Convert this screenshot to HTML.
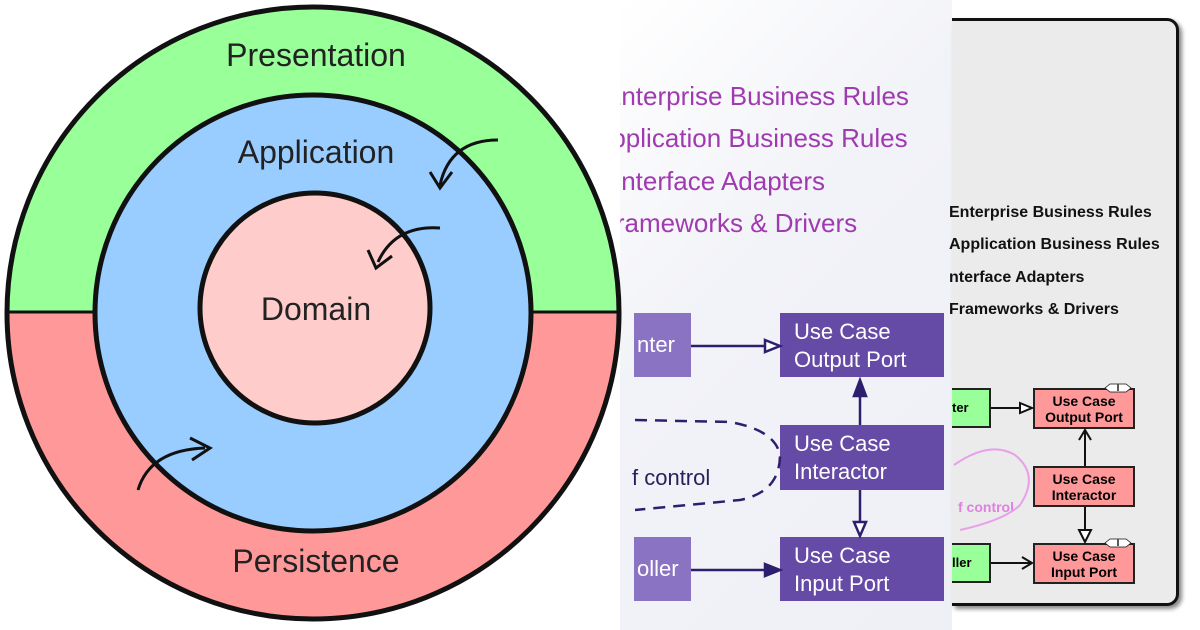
<!DOCTYPE html>
<html><head><style>
body{margin:0;width:1200px;height:630px;overflow:hidden;background:#fff;position:relative;font-family:"Liberation Sans",sans-serif}
.a{position:absolute}
.pt{color:#a03ab0;font-size:26px;white-space:nowrap;position:absolute}
.pb{background:#654ba6;color:#fff;font-size:22px;line-height:28px;padding:5px 0 0 14px;box-sizing:border-box}
.rt{font-weight:bold;font-size:16px;left:949px;white-space:nowrap;color:#111}
.rb{background:#f99;border:2px solid #222;box-sizing:border-box;font-weight:bold;font-size:14px;text-align:center;line-height:16px;padding-top:3px}
.gb{background:#9f9;border:2px solid #222;box-sizing:border-box;font-weight:bold;font-size:13px;line-height:36px}
</style></head><body>
<div class="a" style="left:620px;top:0;width:332px;height:630px;background:linear-gradient(135deg,#fff 0%,#f2f3f8 40%,#eef0f6 100%);overflow:hidden">
<div class="pt" style="top:81px;left:-16px">Enterprise Business Rules</div>
<div class="pt" style="top:123px;left:-26px">Application Business Rules</div>
<div class="pt" style="top:166px;left:-6px">Interface Adapters</div>
<div class="pt" style="top:208px;left:-20px">Frameworks &amp; Drivers</div>
</div>
<svg class="a" style="left:0;top:0" width="630" height="630">
<defs><clipPath id="t"><rect x="0" y="0" width="630" height="312"/></clipPath><clipPath id="b"><rect x="0" y="312" width="630" height="330"/></clipPath></defs>
<circle cx="313" cy="313" r="306" fill="#99ff99" clip-path="url(#t)"/>
<circle cx="313" cy="313" r="306" fill="#ff9999" clip-path="url(#b)"/>
<circle cx="313" cy="313" r="306" fill="none" stroke="#111" stroke-width="5"/>
<line x1="5" y1="312" x2="96" y2="312" stroke="#111" stroke-width="3"/>
<line x1="530" y1="312" x2="620" y2="312" stroke="#111" stroke-width="3"/>
<circle cx="313" cy="313" r="218" fill="#99ccff" stroke="#111" stroke-width="5"/>
<circle cx="315" cy="308" r="115" fill="#ffcccc" stroke="#111" stroke-width="5"/>
<g font-family="Liberation Sans" font-size="32" fill="#222" text-anchor="middle">
<text x="316" y="66">Presentation</text>
<text x="316" y="163">Application</text>
<text x="316" y="320">Domain</text>
<text x="316" y="572">Persistence</text></g>
<g fill="none" stroke="#111" stroke-width="3">
<path d="M498 140 Q450 140 440 185"/><path d="M430 172 L440 188 L452 172"/>
<path d="M440 228 Q395 225 378 262"/><path d="M368 250 L376 268 L392 256"/>
<path d="M138 490 Q150 450 205 448"/><path d="M190 438 L210 448 L192 460"/>
</g></svg>
<div class="a pb" style="left:634px;top:313px;width:57px;height:64px;background:#8b73c4;padding:18px 0 0 3px">nter</div>
<div class="a pb" style="left:634px;top:537px;width:57px;height:64px;background:#8b73c4;padding:18px 0 0 3px">oller</div>
<div class="a pb" style="left:780px;top:313px;width:164px;height:64px">Use Case<br>Output Port</div>
<div class="a pb" style="left:780px;top:425px;width:164px;height:65px">Use Case<br>Interactor</div>
<div class="a pb" style="left:780px;top:537px;width:164px;height:64px">Use Case<br>Input Port</div>
<div class="a" style="left:632px;top:465px;font-size:22px;color:#2a1f5a">f control</div>
<svg class="a" style="left:630px;top:300px" width="330" height="320">
<g stroke="#2e1f6e" stroke-width="2.5" fill="none">
<line x1="61" y1="46" x2="135" y2="46"/><path d="M135 40 L150 46 L135 52 Z" fill="#fff"/>
<line x1="61" y1="270" x2="135" y2="270"/><path d="M135 264 L150 270 L135 276 Z" fill="#2e1f6e"/>
<line x1="230" y1="125" x2="230" y2="92"/><path d="M224 96 L230 80 L236 96 Z" fill="#2e1f6e"/>
<line x1="230" y1="190" x2="230" y2="222"/><path d="M224 222 L230 236 L236 222 Z" fill="#fff"/>
<path d="M5 120 L100 122 Q145 130 150 155 Q150 192 110 200 L5 210" stroke-dasharray="12 8"/>
</g></svg>
<div class="a" style="left:952px;top:18px;width:224px;height:582px;background:#ebebeb;border:3px solid #111;border-left:none;border-radius:0 12px 12px 0;box-shadow:3px 3px 4px #888"></div>
<div class="a rt" style="top:204px">Enterprise Business Rules</div>
<div class="a rt" style="top:236px">Application Business Rules</div>
<div class="a rt" style="top:269px">nterface Adapters</div>
<div class="a rt" style="top:301px">Frameworks &amp; Drivers</div>
<div class="a gb" style="left:952px;top:388px;width:39px;height:40px;border-left:none">ter</div>
<div class="a gb" style="left:952px;top:543px;width:39px;height:40px;border-left:none">ller</div>
<div class="a rb" style="left:1033px;top:388px;width:102px;height:41px">Use Case<br>Output Port</div>
<div class="a rb" style="left:1033px;top:466px;width:102px;height:41px">Use Case<br>Interactor</div>
<div class="a rb" style="left:1033px;top:543px;width:102px;height:41px">Use Case<br>Input Port</div>
<div class="a" style="left:958px;top:499px;color:#e080e0;font-weight:bold;font-size:14px">f control</div>
<svg class="a" style="left:940px;top:370px" width="240" height="230">
<g stroke="#111" stroke-width="2" fill="none">
<line x1="51" y1="38" x2="80" y2="38"/><path d="M80 33 L92 38 L80 43 Z" fill="#fff"/>
<line x1="51" y1="193" x2="92" y2="193"/><path d="M82 187 L92 193 L82 199"/>
<line x1="145" y1="96" x2="145" y2="60"/><path d="M139 70 L145 60 L151 70"/>
<line x1="145" y1="137" x2="145" y2="160"/><path d="M139 160 L145 172 L151 160 Z" fill="#fff"/>
<path d="M14 95 Q50 70 75 85 Q100 105 80 135 Q65 150 20 160" stroke="#e8a0e8"/>
</g>
<g font-size="9" font-weight="bold" fill="#fff" stroke="#111" stroke-width="0.8">
<path d="M165 18 L170 14 L186 14 L191 18 L186 22 L170 22 Z"/>
<path d="M165 173 L170 169 L186 169 L191 173 L186 177 L170 177 Z"/>
</g>
<text x="178" y="21" font-size="9" font-weight="bold" text-anchor="middle">I</text>
<text x="178" y="176" font-size="9" font-weight="bold" text-anchor="middle">I</text>
</svg>
</body></html>
